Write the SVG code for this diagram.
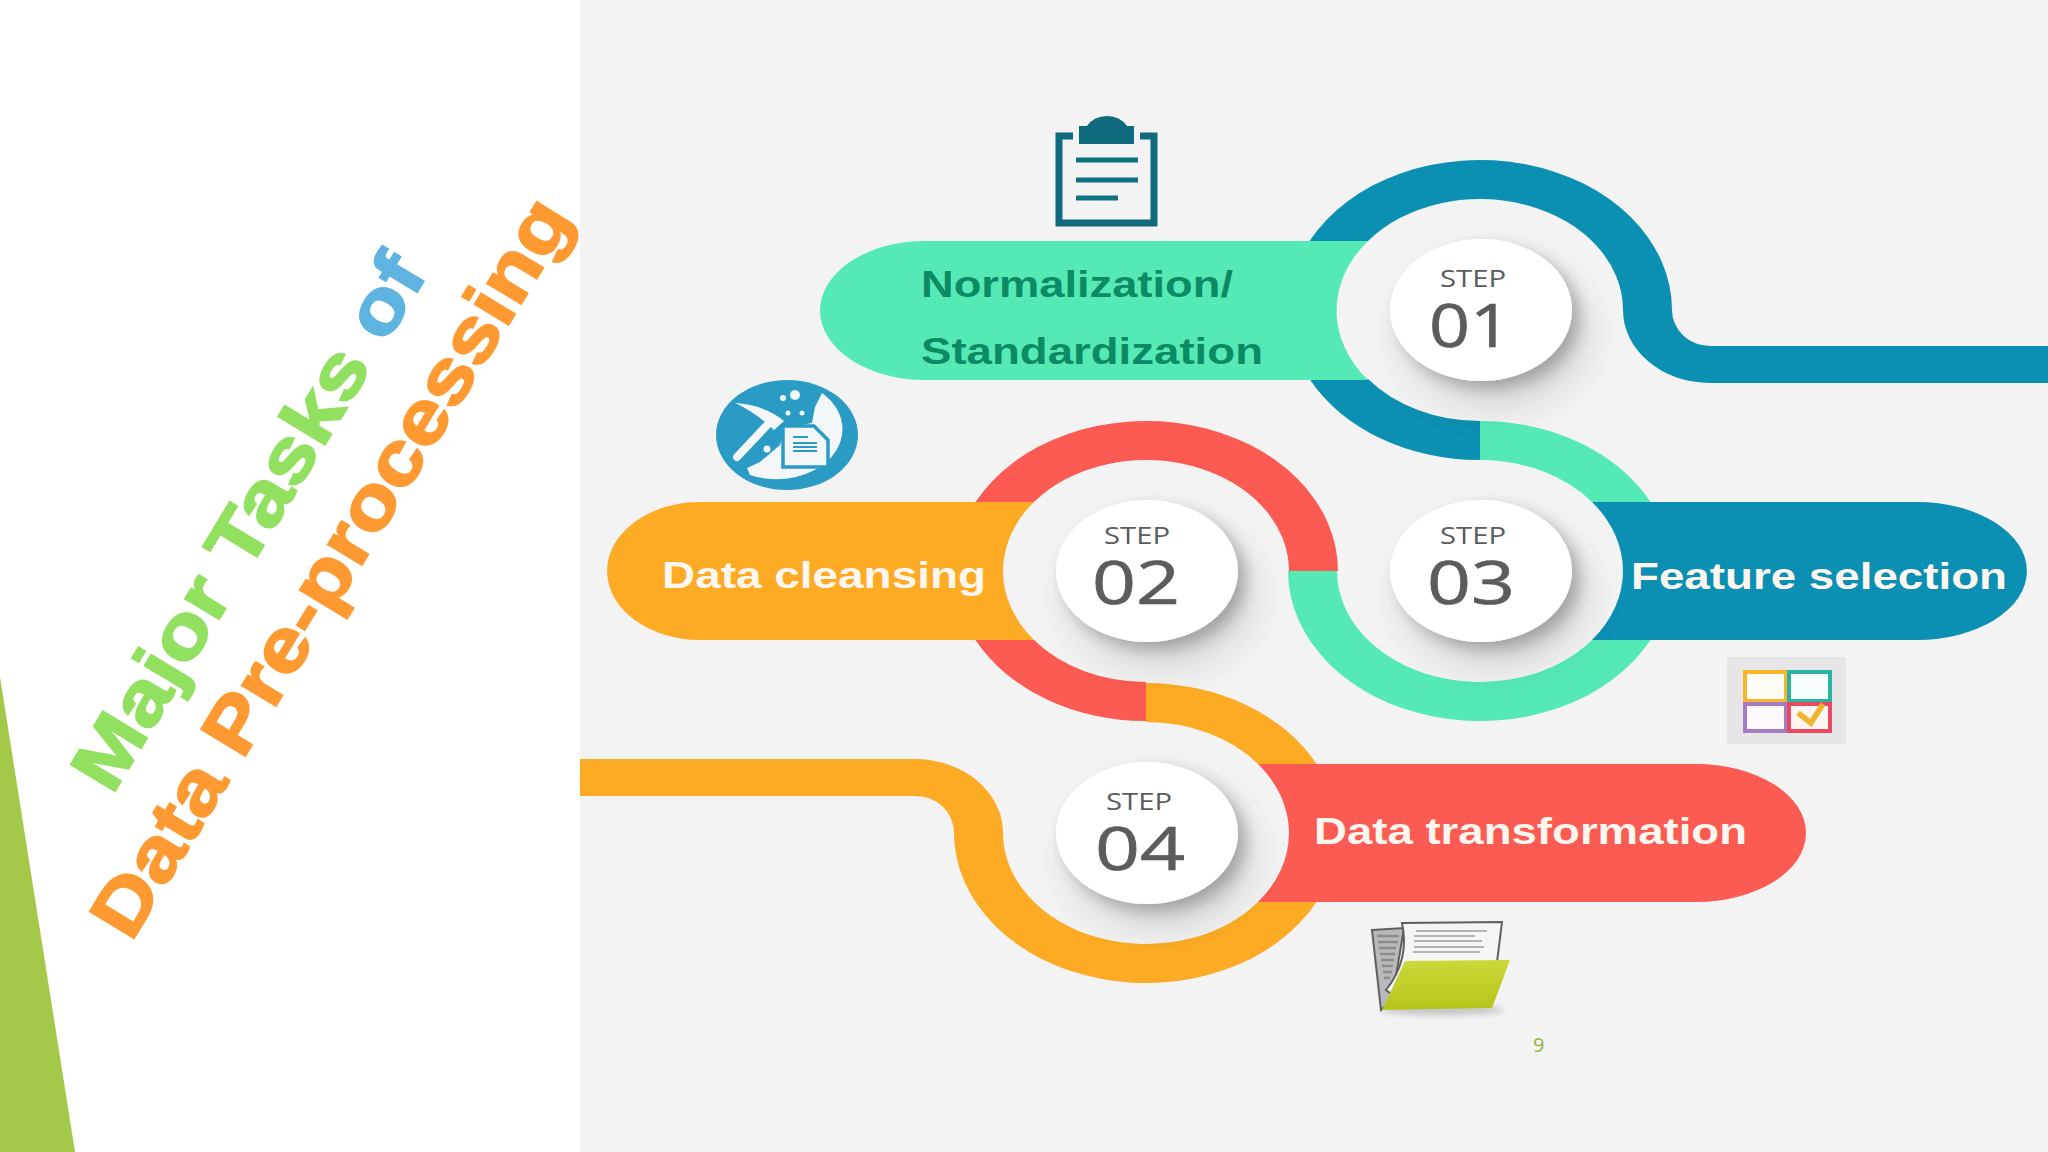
<svg xmlns="http://www.w3.org/2000/svg" width="2048" height="1152" viewBox="0 0 2048 1152">
<defs>
<style>
.lb{font-family:"Liberation Sans",Arial,sans-serif;font-weight:700;font-size:36px;fill:#fff6f0}
.st{font-family:"Open Sans","Noto Sans",sans-serif;font-size:24px;fill:#5c5c5e}
.nm{font-family:"Open Sans","Noto Sans",sans-serif;font-size:61px;fill:#5c5c5e;stroke:#5c5c5e;stroke-width:.7px}
.ti{font-family:"Liberation Sans",Arial,sans-serif;font-weight:700;font-size:75px;stroke-width:2px}
.disc{fill:#fff;filter:url(#sh)}
.teal{fill:#55eab5}.blue{fill:#0b8fb2}.red{fill:#fb5b52}.or{fill:#fdab24}
</style>
<filter id="sh" x="-60%" y="-60%" width="240%" height="240%">
<feGaussianBlur in="SourceAlpha" stdDeviation="18" result="b1"/>
<feOffset in="b1" dx="14" dy="24" result="o1"/>
<feFlood flood-color="#000" flood-opacity=".14"/><feComposite in2="o1" operator="in" result="s1"/>
<feGaussianBlur in="SourceAlpha" stdDeviation="8" result="b2"/>
<feOffset in="b2" dx="8" dy="7" result="o2"/>
<feFlood flood-color="#000" flood-opacity=".24"/><feComposite in2="o2" operator="in" result="s2"/>
<feMerge><feMergeNode in="s1"/><feMergeNode in="s2"/><feMergeNode in="SourceGraphic"/></feMerge>
</filter>
<filter id="soft" x="-20%" y="-50%" width="140%" height="200%"><feGaussianBlur stdDeviation="3"/></filter>
<linearGradient id="fold" x1="0" y1="0" x2="0" y2="1"><stop offset="0" stop-color="#cbd93a"/><stop offset="1" stop-color="#b5c41a"/></linearGradient>
</defs>

<rect width="2048" height="1152" fill="#fff"/>
<rect x="580" width="1468" height="1152" fill="#f3f3f4"/>
<path id="accent" d="M0 677L75 1152H0Z" fill="#a3c84a"/>

<g id="title">
<text class="ti" transform="translate(112 796) rotate(-58.800) scale(1.175 1)"><tspan fill="#92e060" stroke="#92e060">Major Tasks </tspan><tspan fill="#5fb3e0" stroke="#5fb3e0">of</tspan></text>
<text class="ti" fill="#ff9a33" stroke="#ff9a33" transform="translate(131 943) rotate(-58.600) scale(1.165 1)">Data Pre-processing</text>
</g>

<g id="connectors">
<path class="blue" d="M1309.5 241A192 150 0 0 1 1672 310A38 36 0 0 0 1710 346H2048V383H1710A87 73 0 0 1 1623 310A143 111 0 0 0 1368 241Z"/>
<path class="blue" d="M1309.5 379A192 150 0 0 0 1480 460V421A143 111 0 0 1 1368 379Z"/>
<path class="teal" d="M1480 421A192 150 0 0 1 1650.5 502H1592A143 111 0 0 0 1480 460Z"/>
<path class="teal" d="M1650.5 640A192 150 0 0 1 1288 571H1337A143 111 0 0 0 1592 640Z"/>
<path class="red" d="M975.5 502A192 150 0 0 1 1338 571H1289A143 111 0 0 0 1034 502Z"/>
<path class="red" d="M975.5 640A192 150 0 0 0 1146 721V682A143 111 0 0 1 1034 640Z"/>
<path class="or" d="M1146 683A192 150 0 0 1 1316.5 764H1258A143 111 0 0 0 1146 722Z"/>
<path class="or" d="M1316.5 902A192 150 0 0 1 954 833A38 37 0 0 0 916 796H580V759H915A88 74 0 0 1 1003 833A143 111 0 0 0 1258 902Z"/>
</g>

<g id="step1">
<path class="teal" d="M1368 241H925A105 69.5 0 0 0 925 380H1368A143 111 0 0 1 1368 241Z"/>
<text class="lb" x="921" y="297" textLength="312" lengthAdjust="spacingAndGlyphs" style="fill:#0b8a63">Normalization/</text>
<text class="lb" x="921" y="363.500" textLength="342" lengthAdjust="spacingAndGlyphs" style="fill:#0b8a63">Standardization</text>
<ellipse class="disc" cx="1481" cy="310" rx="91" ry="71"/>
<text class="st" x="1440" y="287" textLength="66" lengthAdjust="spacingAndGlyphs">STEP</text>
<text class="nm" x="1429" y="347" textLength="82" lengthAdjust="spacingAndGlyphs">01</text>
</g>
<g id="step2">
<path class="or" d="M1034 502H700A93 69 0 0 0 700 640H1034A143 111 0 0 1 1034 502Z"/>
<text class="lb" x="662" y="588" textLength="324" lengthAdjust="spacingAndGlyphs">Data cleansing</text>
<ellipse class="disc" cx="1147" cy="571" rx="91" ry="71"/>
<text class="st" x="1104" y="543.500" textLength="66" lengthAdjust="spacingAndGlyphs">STEP</text>
<text class="nm" x="1092" y="604" textLength="88" lengthAdjust="spacingAndGlyphs">02</text>
</g>
<g id="step3">
<path class="blue" d="M1592 502H1917A110 69 0 0 1 1917 640H1592A143 111 0 0 0 1592 502Z"/>
<text class="lb" x="1631" y="589" textLength="376" lengthAdjust="spacingAndGlyphs">Feature selection</text>
<ellipse class="disc" cx="1481" cy="571" rx="91" ry="71"/>
<text class="st" x="1440" y="543.500" textLength="66" lengthAdjust="spacingAndGlyphs">STEP</text>
<text class="nm" x="1427" y="604" textLength="88" lengthAdjust="spacingAndGlyphs">03</text>
</g>
<g id="step4">
<path class="red" d="M1258 764H1696A110 69 0 0 1 1696 902H1258A143 111 0 0 0 1258 764Z"/>
<text class="lb" x="1314" y="843.500" textLength="433" lengthAdjust="spacingAndGlyphs">Data transformation</text>
<ellipse class="disc" cx="1147" cy="833" rx="91" ry="71"/>
<text class="st" x="1106" y="810" textLength="66" lengthAdjust="spacingAndGlyphs">STEP</text>
<text class="nm" x="1095" y="870" textLength="90" lengthAdjust="spacingAndGlyphs">04</text>
</g>

<g id="icon-clipboard">
<path d="M1073 136H1059V223H1154V136H1140" fill="none" stroke="#0f6a7d" stroke-width="7"/>
<path d="M1079 144V126H1087Q1094 116 1107 116Q1120 116 1127 126H1134V144Z" fill="#0f6a7d"/>
<path d="M1076 160H1138M1076 180H1138M1076 198H1118" stroke="#0f7282" stroke-width="5" fill="none"/>
</g>

<g id="icon-pick">
<ellipse cx="787" cy="435" rx="71" ry="55" fill="#2a9bc4"/>
<path d="M822 393L815 407L812 423L785 428L780 445L760 462L747 468L750 475A66 50 0 0 0 822 393Z" fill="#f4f7f9"/>
<path d="M737 457L770 422" stroke="#f4f7f9" stroke-width="8" stroke-linecap="round"/>
<path d="M735 403Q765 405 784 421L774 430Q755 412 735 403Z" fill="#f4f7f9"/>
<path d="M783 426H814L828 440V467H783Z" fill="#f4f7f9" stroke="#2a9bc4" stroke-width="3.500"/>
<path d="M793 437H808M793 443H817M793 447H817M793 451H817" stroke="#2a9bc4" stroke-width="1.800"/>
<g fill="#f4f7f9"><circle cx="795" cy="395" r="5"/><circle cx="783" cy="398" r="3"/><circle cx="788" cy="413" r="2.500"/><circle cx="802" cy="413" r="2.500"/><circle cx="767" cy="449" r="3.500"/></g>
</g>

<g id="icon-grid">
<rect x="1727" y="657" width="119" height="87" fill="#e6e6e6"/>
<rect x="1745" y="672" width="41" height="29" fill="#fffdf6" stroke="#f7b52c" stroke-width="4"/>
<rect x="1789" y="672" width="41" height="29" fill="#f6feff" stroke="#2ab3a3" stroke-width="4"/>
<rect x="1745" y="704" width="41" height="27" fill="#fdf9ff" stroke="#a57bc4" stroke-width="4"/>
<rect x="1789" y="704" width="41" height="27" fill="#fff6f4" stroke="#ea4a60" stroke-width="4"/>
<path d="M1798 713L1811 723L1823 704" fill="none" stroke="#f1b32b" stroke-width="5.500"/>
</g>

<g id="icon-folder">
<ellipse cx="1442" cy="1010" rx="62" ry="5" fill="#9a9aa0" opacity=".55" filter="url(#soft)"/>
<path d="M1372 930L1404 928L1392 1000L1381 1010Z" fill="#b9b9bb" stroke="#5f5f62" stroke-width="2"/>
<path d="M1377 936H1399M1378 942H1398M1379 948H1396M1380 954H1395M1381 960H1394M1382 966H1393M1383 972H1392M1384 978H1390" stroke="#8c8c8e" stroke-width="2.500"/>
<path d="M1402 923L1502 922L1497 962L1392 994Q1388 992 1386 990Q1410 960 1402 923Z" fill="#f5f5f5" stroke="#5f5f62" stroke-width="2"/>
<path d="M1416 931H1487M1414 936H1475M1414 941H1482M1414 947H1484M1413 952H1480" stroke="#b5b5b8" stroke-width="2.200"/>
<path d="M1405 961L1510 960L1492 1008L1382 1010Z" fill="url(#fold)"/>
</g>

<text id="page" x="1533" y="1052" font-family="Open Sans, Noto Sans, sans-serif" font-size="20" fill="#8cb43a">9</text>
</svg>
